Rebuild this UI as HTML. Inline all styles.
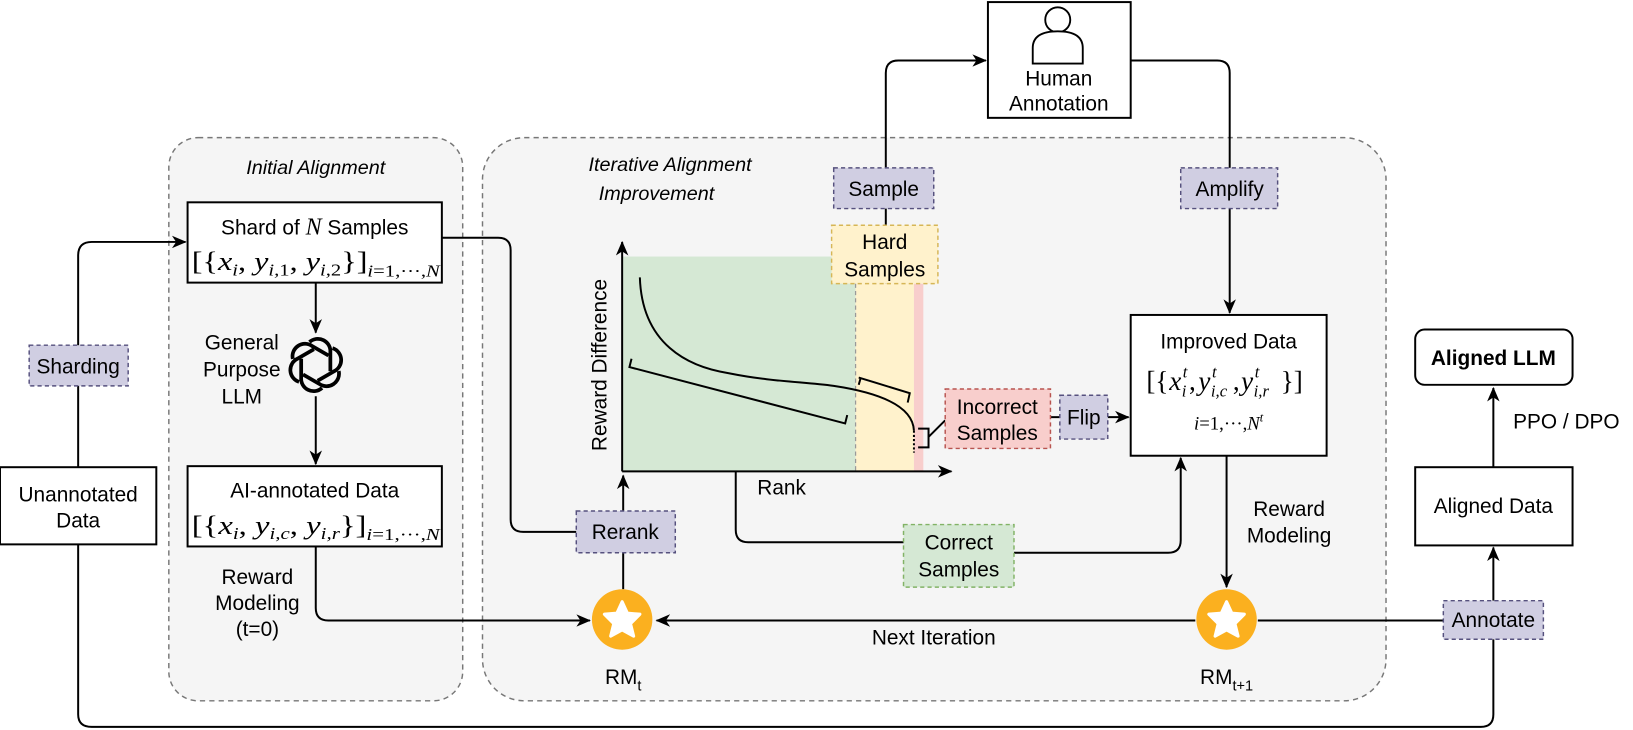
<!DOCTYPE html>
<html><head><meta charset="utf-8"><style>
html,body{margin:0;padding:0;background:#fff}
svg{display:block}
text{font-family:"Liberation Sans",sans-serif;fill:#000}
.m{font-family:"Liberation Serif",serif;font-style:italic}
.r{font-family:"Liberation Serif",serif}
</style></head><body>
<svg width="1633" height="730" viewBox="0 0 1567 700" preserveAspectRatio="none" xmlns="http://www.w3.org/2000/svg">
<defs>
<marker id="a" markerWidth="14" markerHeight="12" refX="13" refY="6" orient="auto" markerUnits="userSpaceOnUse">
<path d="M0,0 L14,6 L0,12 L4,6 Z" fill="#000"/></marker>
</defs>
<rect x="162" y="132" width="282" height="540" rx="28" fill="#f5f5f5" stroke="#777" stroke-width="1.4" stroke-dasharray="5,4"/>
<rect x="463" y="132" width="867" height="540" rx="40" fill="#f5f5f5" stroke="#777" stroke-width="1.4" stroke-dasharray="5,4"/>
<text x="303" y="167" font-size="19" font-style="italic" text-anchor="middle">Initial Alignment</text>
<text x="643" y="164" font-size="19" font-style="italic" text-anchor="middle">Iterative Alignment</text>
<text x="630" y="192" font-size="19" font-style="italic" text-anchor="middle">Improvement</text>

<g fill="none" stroke="#000" stroke-width="1.9">
<path d="M75,448 V245 Q75,232 88,232 H178" marker-end="url(#a)"/>
<path d="M75,522 V685 Q75,697 88,697 H1421 Q1433,697 1433,685 V613"/>
<path d="M1433,576 V525" marker-end="url(#a)"/>
<path d="M1433,448 V372" marker-end="url(#a)"/>
<path d="M1207,595 H1385"/>
<path d="M424,228 H478 Q490,228 490,240 V498 Q490,510 502,510 H553"/>
<path d="M598,490 V456" marker-end="url(#a)"/>
<path d="M598,565 V530"/>
<path d="M303,271 V319" marker-end="url(#a)"/>
<path d="M303,380 V445" marker-end="url(#a)"/>
<path d="M303,524 V583 Q303,595 315,595 H566" marker-end="url(#a)"/>
<path d="M1147,595 H630" marker-end="url(#a)"/>
<path d="M850,161 V70 Q850,58 862,58 H946" marker-end="url(#a)"/>
<path d="M850,200 V216"/>
<path d="M850,272 V368"/>
<path d="M1085,58 H1168 Q1180,58 1180,70 V161"/>
<path d="M1180,200 V300" marker-end="url(#a)"/>
<path d="M1177,437 V563" marker-end="url(#a)"/>
<path d="M706,381 V508 Q706,520 718,520 H867"/>
<path d="M973,530 H1121 Q1133,530 1133,518 V439" marker-end="url(#a)"/>
<path d="M1008,400 H1017"/>
<path d="M1063,400 H1083" marker-end="url(#a)"/>
</g>

<rect x="597" y="246" width="224" height="206" fill="#d5e8d4"/>
<rect x="821" y="272" width="56" height="180" fill="#fff2cc"/>
<rect x="877" y="272" width="9" height="180" fill="#f8cecc"/>
<line x1="821" y1="272" x2="821" y2="452" stroke="#999" stroke-width="1.2" stroke-dasharray="4,3"/>
<g fill="none" stroke="#000" stroke-width="1.9">
<path d="M597,452 V232" marker-end="url(#a)"/>
<path d="M597,452 H913" marker-end="url(#a)"/>
<path d="M614,266 C616,330 660,352 700,358 C740,366 770,366 800,370 C840,376 876,388 877,413"/>
<path d="M877,413 V434" stroke-dasharray="2,2"/>
<path d="M606,344 L604,352 L811,406 L813,398"/>
<path d="M826,362 L824,369 M824,362 L873,377 L871,386"/>
<path d="M881,411 H891 V429 H881"/>
<path d="M891,419 L907,403"/>
</g>
<text transform="translate(582,350) rotate(-90)" font-size="20" text-anchor="middle">Reward Difference</text>
<text x="750" y="474" font-size="20" text-anchor="middle">Rank</text>

<g stroke="#000" stroke-width="1.9" fill="#fff">
<rect x="180" y="194" width="244" height="77"/>
<rect x="180" y="447" width="244" height="77"/>
<rect x="0" y="448" width="150" height="74"/>
<rect x="948" y="2" width="137" height="111"/>
<rect x="1085" y="302" width="188" height="135"/>
<rect x="1358" y="316" width="151" height="53" rx="9"/>
<rect x="1358" y="448" width="151" height="75"/>
</g>
<g stroke="#56517e" stroke-width="1.4" stroke-dasharray="4,3" fill="#d0cee2">
<rect x="800" y="161" width="96" height="39"/>
<rect x="1133" y="161" width="93" height="39"/>
<rect x="28" y="331" width="95" height="39"/>
<rect x="553" y="490" width="95" height="40"/>
<rect x="1017" y="379" width="46" height="42"/>
<rect x="1385" y="576" width="96" height="37"/>
</g>
<rect x="798" y="216" width="102" height="56" fill="#fff2cc" stroke="#d6b656" stroke-width="1.4" stroke-dasharray="4,3"/>
<rect x="907" y="373" width="101" height="57" fill="#f8cecc" stroke="#b85450" stroke-width="1.4" stroke-dasharray="4,3"/>
<rect x="867" y="503" width="106" height="60" fill="#d5e8d4" stroke="#82b366" stroke-width="1.4" stroke-dasharray="4,3"/>

<circle cx="1015" cy="19" r="12" fill="#fff" stroke="#000" stroke-width="1.8"/>
<path d="M991,61 V46 Q991,30 1015,30 Q1039,30 1039,46 V61 Z" fill="#fff" stroke="#000" stroke-width="1.8"/>

<g transform="translate(303,350)" fill="none" stroke="#000" stroke-width="3.6" stroke-linejoin="round">
<path d="M-6,-22 A12,12 0 0 1 14,-12 V6"/>
<path d="M-6,-22 A12,12 0 0 1 14,-12 V6" transform="rotate(60)"/>
<path d="M-6,-22 A12,12 0 0 1 14,-12 V6" transform="rotate(120)"/>
<path d="M-6,-22 A12,12 0 0 1 14,-12 V6" transform="rotate(180)"/>
<path d="M-6,-22 A12,12 0 0 1 14,-12 V6" transform="rotate(240)"/>
<path d="M-6,-22 A12,12 0 0 1 14,-12 V6" transform="rotate(300)"/>
</g>

<circle cx="597" cy="594" r="29" fill="#fbb01f"/>
<polygon points="597,577 602,588 614,589 605,598 608,610 597,604 586,610 589,598 580,589 592,588" fill="#fff" stroke="#fff" stroke-width="3" stroke-linejoin="round"/>
<circle cx="1177" cy="594" r="29" fill="#fbb01f"/>
<polygon points="1177,577 1182,588 1194,589 1185,598 1188,610 1177,604 1166,610 1169,598 1160,589 1172,588" fill="#fff" stroke="#fff" stroke-width="3" stroke-linejoin="round"/>

<g font-size="20" text-anchor="middle">
<text x="302" y="225">Shard of <tspan class="m" font-size="23">N</tspan> Samples</text>
<text x="302" y="477">AI-annotated Data</text>
<text x="75" y="481">Unannotated</text>
<text x="75" y="506">Data</text>
<text x="75" y="358">Sharding</text>
<text x="232" y="335">General</text>
<text x="232" y="361">Purpose</text>
<text x="232" y="387">LLM</text>
<text x="247" y="560">Reward</text>
<text x="247" y="585">Modeling</text>
<text x="247" y="610">(t=0)</text>
<text x="848" y="188">Sample</text>
<text x="1180" y="188">Amplify</text>
<text x="849" y="239">Hard</text>
<text x="849" y="265">Samples</text>
<text x="957" y="397">Incorrect</text>
<text x="957" y="422">Samples</text>
<text x="1040" y="407">Flip</text>
<text x="920" y="527">Correct</text>
<text x="920" y="553">Samples</text>
<text x="600" y="517">Rerank</text>
<text x="1016" y="82">Human</text>
<text x="1016" y="106">Annotation</text>
<text x="1179" y="334">Improved Data</text>
<text x="1433" y="350" font-weight="bold">Aligned LLM</text>
<text x="1433" y="492">Aligned Data</text>
<text x="1433" y="601">Annotate</text>
<text x="1237" y="495">Reward</text>
<text x="1237" y="520">Modeling</text>
<text x="896" y="618">Next Iteration</text>
<text x="598" y="656">RM<tspan font-size="14" dy="6">t</tspan></text>
<text x="1177" y="656">RM<tspan font-size="14" dy="6">t+1</tspan></text>
</g>

<text x="184" y="259" class="r" font-size="25" textLength="238" lengthAdjust="spacingAndGlyphs">[{<tspan class="m">x</tspan><tspan class="m" font-size="16" dy="5">i</tspan><tspan dy="-5">, </tspan><tspan class="m">y</tspan><tspan class="m" font-size="16" dy="5">i,</tspan><tspan font-size="16">1</tspan><tspan dy="-5">, </tspan><tspan class="m">y</tspan><tspan class="m" font-size="16" dy="5">i,</tspan><tspan font-size="16">2</tspan><tspan dy="-5">}]</tspan><tspan class="m" font-size="16" dy="6">i</tspan><tspan font-size="16">=1,···,</tspan><tspan class="m" font-size="16">N</tspan></text>
<text x="184" y="512" class="r" font-size="25" textLength="238" lengthAdjust="spacingAndGlyphs">[{<tspan class="m">x</tspan><tspan class="m" font-size="16" dy="5">i</tspan><tspan dy="-5">, </tspan><tspan class="m">y</tspan><tspan class="m" font-size="16" dy="5">i,c</tspan><tspan dy="-5">, </tspan><tspan class="m">y</tspan><tspan class="m" font-size="16" dy="5">i,r</tspan><tspan dy="-5">}]</tspan><tspan class="m" font-size="16" dy="6">i</tspan><tspan font-size="16">=1,···,</tspan><tspan class="m" font-size="16">N</tspan></text>

<g font-size="26">
<text x="1100" y="374" class="r">[{</text>
<text x="1122" y="374" class="m">x</text>
<text x="1134" y="380" class="m" font-size="16">i</text>
<text x="1135" y="362" class="m" font-size="16">t</text>
<text x="1141" y="374" class="r">,</text>
<text x="1150" y="374" class="m">y</text>
<text x="1162" y="380" class="m" font-size="16">i,c</text>
<text x="1163" y="362" class="m" font-size="16">t</text>
<text x="1183" y="374" class="r">,</text>
<text x="1191" y="374" class="m">y</text>
<text x="1203" y="380" class="m" font-size="16">i,r</text>
<text x="1204" y="362" class="m" font-size="16">t</text>
<text x="1229" y="374" class="r">}]</text>
</g>
<text x="1179" y="412" class="r" font-size="18" text-anchor="middle"><tspan class="m">i</tspan>=1,···,<tspan class="m">N</tspan><tspan font-size="12" dy="-8" class="m">t</tspan></text>
<text x="1452" y="411" font-size="20">PPO / DPO</text>
</svg>
</body></html>
